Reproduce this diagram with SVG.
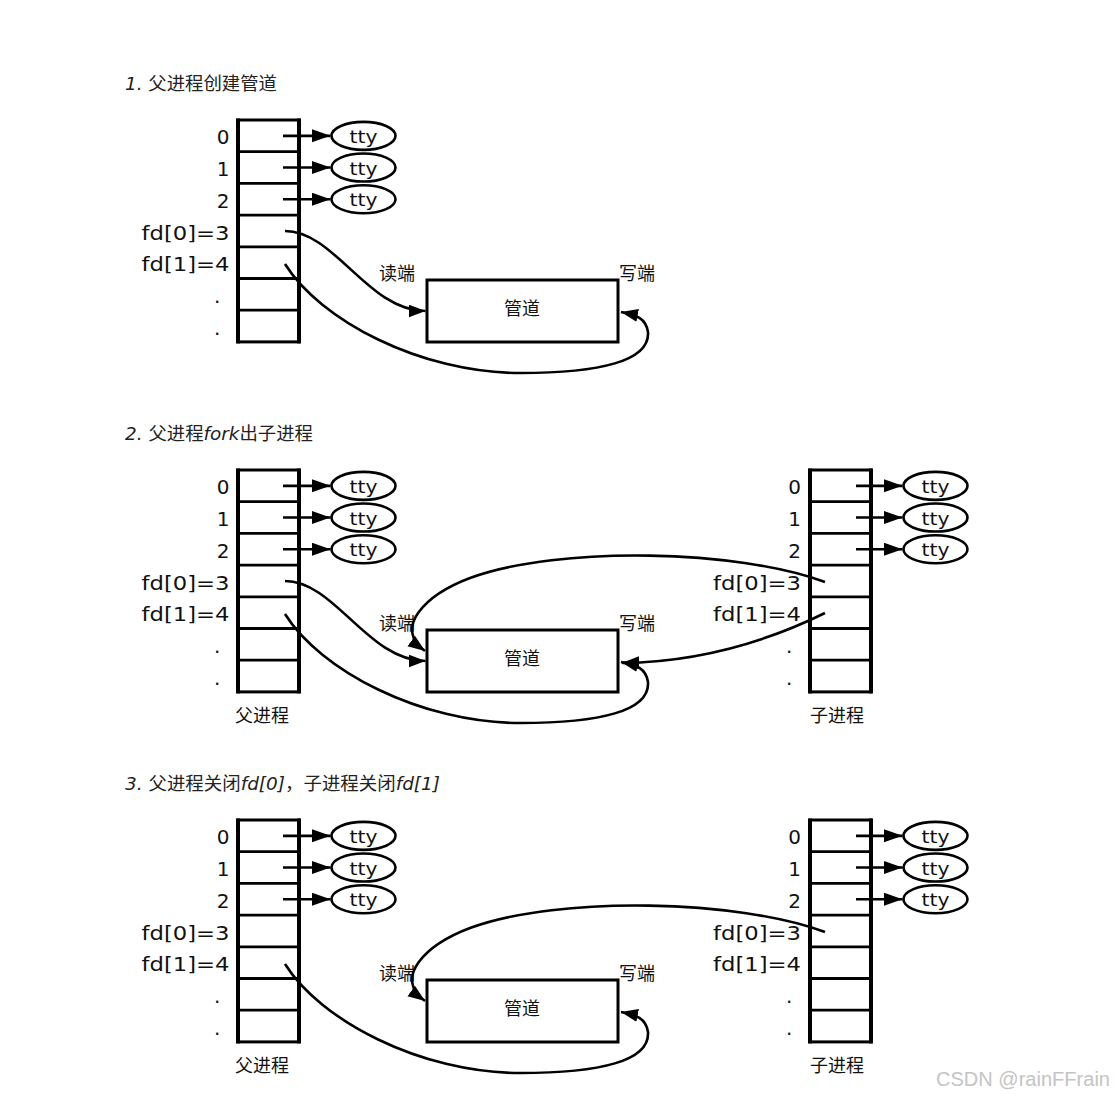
<svg xmlns="http://www.w3.org/2000/svg" width="1115" height="1099" viewBox="0 0 1115 1099">
<defs>
<style>
.bg{fill:#fff}
.tbl{fill:none;stroke:#000;stroke-width:3}
.vl{stroke:#000;stroke-width:4}
.hl{stroke:#000;stroke-width:2.8}
.ell{fill:#fff;stroke:#000;stroke-width:2.6}
.pipe{fill:#fff;stroke:#000;stroke-width:3}
.lbl{font-family:"DejaVu Sans","Noto Sans CJK SC",sans-serif;font-size:20px;fill:#111}
.tty{font-family:"DejaVu Sans",sans-serif;font-size:18px;fill:#111;text-anchor:middle}
.cjk{font-family:"Noto Sans CJK SC","DejaVu Sans",sans-serif;font-size:18px;fill:#111}
.ttl{font-family:"DejaVu Sans","Noto Sans CJK SC",sans-serif;font-size:18px;fill:#222}
.it{font-style:italic}
.sm{fill:none;stroke:#000;stroke-width:2.6;marker-end:url(#ah)}
.cv{fill:none;stroke:#000;stroke-width:2.6;marker-end:url(#ah2)}
.wm{font-family:"Liberation Sans",Arial,sans-serif;font-size:20px;fill:#c4c4c4}
</style>
<marker id="ah" markerUnits="userSpaceOnUse" markerWidth="20" markerHeight="14" refX="19" refY="6.7" orient="auto" viewBox="0 0 20 14">
<path d="M0,0 L19,6.7 L0,13.4 z" fill="#000"/>
</marker>
<marker id="ah2" markerUnits="userSpaceOnUse" markerWidth="18" markerHeight="14" refX="17" refY="6.5" orient="auto" viewBox="0 0 18 14">
<path d="M0,0 L17,6.5 L0,13 z" fill="#000"/>
</marker>
<g id="tblShape">
<rect class="tbl" x="238" y="0" width="61" height="221.9"/>
<line class="hl" x1="238" y1="31.7" x2="299" y2="31.7"/>
<line class="hl" x1="238" y1="63.4" x2="299" y2="63.4"/>
<line class="hl" x1="238" y1="95.1" x2="299" y2="95.1"/>
<line class="hl" x1="238" y1="126.8" x2="299" y2="126.8"/>
<line class="hl" x1="238" y1="158.5" x2="299" y2="158.5"/>
<line class="hl" x1="238" y1="190.2" x2="299" y2="190.2"/>
<line class="vl" x1="238" y1="-1.5" x2="238" y2="223.4"/>
<line class="vl" x1="299" y1="-1.5" x2="299" y2="223.4"/>
</g>
</defs>
<rect class="bg" x="0" y="0" width="1115" height="1099"/>

<!-- Section titles -->
<g id="title1"><text class="ttl" x="125" y="90" textLength="152" lengthAdjust="spacingAndGlyphs"><tspan class="it">1. </tspan>父进程创建管道</text></g>
<g id="title2"><text class="ttl" x="125" y="440" textLength="188" lengthAdjust="spacingAndGlyphs"><tspan class="it">2. </tspan>父进程<tspan class="it">fork</tspan>出子进程</text></g>
<g id="title3"><text class="ttl" x="125" y="790" textLength="315" lengthAdjust="spacingAndGlyphs"><tspan class="it">3. </tspan>父进程关闭<tspan class="it">fd[0]</tspan>，子进程关闭<tspan class="it">fd[1]</tspan></text></g>

<!-- ===== Section 1 ===== -->
<g id="s1-parent-table">
<use href="#tblShape" y="120"/>
<text class="lbl" text-anchor="end" x="229.5" y="144.4">0</text>
<text class="lbl" text-anchor="end" x="229.5" y="176">1</text>
<text class="lbl" text-anchor="end" x="229.5" y="207.8">2</text>
<text class="lbl" text-anchor="end" x="229.5" y="239.5" textLength="88" lengthAdjust="spacingAndGlyphs">fd[0]=3</text>
<text class="lbl" text-anchor="end" x="229.5" y="271.2" textLength="88" lengthAdjust="spacingAndGlyphs">fd[1]=4</text>
<text class="lbl" x="214" y="303">.</text>
<text class="lbl" x="214" y="334.5">.</text>
</g>
<g id="s1-tty0"><ellipse class="ell" cx="363.5" cy="135.85" rx="32" ry="14"/><text class="tty" x="363.5" y="142.8" textLength="28" lengthAdjust="spacingAndGlyphs">tty</text></g>
<g id="s1-tty1"><ellipse class="ell" cx="363.5" cy="167.55" rx="32" ry="14"/><text class="tty" x="363.5" y="174.5" textLength="28" lengthAdjust="spacingAndGlyphs">tty</text></g>
<g id="s1-tty2"><ellipse class="ell" cx="363.5" cy="199.25" rx="32" ry="14"/><text class="tty" x="363.5" y="206.2" textLength="28" lengthAdjust="spacingAndGlyphs">tty</text></g>
<g id="s1-pipe">
<rect class="pipe" x="427" y="280" width="191" height="62"/>
<text class="cjk" x="522" y="315" text-anchor="middle">管道</text>
<text class="cjk" x="379" y="280">读端</text>
<text class="cjk" x="619" y="280">写端</text>
</g>

<!-- ===== Section 2 ===== -->
<g id="s2-parent-table">
<use href="#tblShape" y="470"/>
<text class="lbl" text-anchor="end" x="229.5" y="494.4">0</text>
<text class="lbl" text-anchor="end" x="229.5" y="526">1</text>
<text class="lbl" text-anchor="end" x="229.5" y="557.8">2</text>
<text class="lbl" text-anchor="end" x="229.5" y="589.5" textLength="88" lengthAdjust="spacingAndGlyphs">fd[0]=3</text>
<text class="lbl" text-anchor="end" x="229.5" y="621.2" textLength="88" lengthAdjust="spacingAndGlyphs">fd[1]=4</text>
<text class="lbl" x="214" y="653">.</text>
<text class="lbl" x="214" y="684.5">.</text>
<text class="cjk" x="262" y="722" text-anchor="middle">父进程</text>
</g>
<g id="s2-ptty0"><ellipse class="ell" cx="363.5" cy="485.85" rx="32" ry="14"/><text class="tty" x="363.5" y="492.8" textLength="28" lengthAdjust="spacingAndGlyphs">tty</text></g>
<g id="s2-ptty1"><ellipse class="ell" cx="363.5" cy="517.55" rx="32" ry="14"/><text class="tty" x="363.5" y="524.5" textLength="28" lengthAdjust="spacingAndGlyphs">tty</text></g>
<g id="s2-ptty2"><ellipse class="ell" cx="363.5" cy="549.25" rx="32" ry="14"/><text class="tty" x="363.5" y="556.2" textLength="28" lengthAdjust="spacingAndGlyphs">tty</text></g>
<g id="s2-child-table">
<use href="#tblShape" x="572" y="470"/>
<text class="lbl" text-anchor="end" x="801" y="494.4">0</text>
<text class="lbl" text-anchor="end" x="801" y="526">1</text>
<text class="lbl" text-anchor="end" x="801" y="557.8">2</text>
<text class="lbl" text-anchor="end" x="801" y="589.5" textLength="88" lengthAdjust="spacingAndGlyphs">fd[0]=3</text>
<text class="lbl" text-anchor="end" x="801" y="621.2" textLength="88" lengthAdjust="spacingAndGlyphs">fd[1]=4</text>
<text class="lbl" x="786" y="653">.</text>
<text class="lbl" x="786" y="684.5">.</text>
<text class="cjk" x="837" y="722" text-anchor="middle">子进程</text>
</g>
<g id="s2-ctty0"><ellipse class="ell" cx="935.5" cy="485.85" rx="32" ry="14"/><text class="tty" x="935.5" y="492.8" textLength="28" lengthAdjust="spacingAndGlyphs">tty</text></g>
<g id="s2-ctty1"><ellipse class="ell" cx="935.5" cy="517.55" rx="32" ry="14"/><text class="tty" x="935.5" y="524.5" textLength="28" lengthAdjust="spacingAndGlyphs">tty</text></g>
<g id="s2-ctty2"><ellipse class="ell" cx="935.5" cy="549.25" rx="32" ry="14"/><text class="tty" x="935.5" y="556.2" textLength="28" lengthAdjust="spacingAndGlyphs">tty</text></g>
<g id="s2-pipe">
<rect class="pipe" x="427" y="630" width="191" height="62"/>
<text class="cjk" x="522" y="665" text-anchor="middle">管道</text>
<text class="cjk" x="379" y="630">读端</text>
<text class="cjk" x="619" y="630">写端</text>
</g>

<!-- ===== Section 3 ===== -->
<g id="s3-parent-table">
<use href="#tblShape" y="820"/>
<text class="lbl" text-anchor="end" x="229.5" y="844.4">0</text>
<text class="lbl" text-anchor="end" x="229.5" y="876">1</text>
<text class="lbl" text-anchor="end" x="229.5" y="907.8">2</text>
<text class="lbl" text-anchor="end" x="229.5" y="939.5" textLength="88" lengthAdjust="spacingAndGlyphs">fd[0]=3</text>
<text class="lbl" text-anchor="end" x="229.5" y="971.2" textLength="88" lengthAdjust="spacingAndGlyphs">fd[1]=4</text>
<text class="lbl" x="214" y="1003">.</text>
<text class="lbl" x="214" y="1034.5">.</text>
<text class="cjk" x="262" y="1072" text-anchor="middle">父进程</text>
</g>
<g id="s3-ptty0"><ellipse class="ell" cx="363.5" cy="835.85" rx="32" ry="14"/><text class="tty" x="363.5" y="842.8" textLength="28" lengthAdjust="spacingAndGlyphs">tty</text></g>
<g id="s3-ptty1"><ellipse class="ell" cx="363.5" cy="867.55" rx="32" ry="14"/><text class="tty" x="363.5" y="874.5" textLength="28" lengthAdjust="spacingAndGlyphs">tty</text></g>
<g id="s3-ptty2"><ellipse class="ell" cx="363.5" cy="899.25" rx="32" ry="14"/><text class="tty" x="363.5" y="906.2" textLength="28" lengthAdjust="spacingAndGlyphs">tty</text></g>
<g id="s3-child-table">
<use href="#tblShape" x="572" y="820"/>
<text class="lbl" text-anchor="end" x="801" y="844.4">0</text>
<text class="lbl" text-anchor="end" x="801" y="876">1</text>
<text class="lbl" text-anchor="end" x="801" y="907.8">2</text>
<text class="lbl" text-anchor="end" x="801" y="939.5" textLength="88" lengthAdjust="spacingAndGlyphs">fd[0]=3</text>
<text class="lbl" text-anchor="end" x="801" y="971.2" textLength="88" lengthAdjust="spacingAndGlyphs">fd[1]=4</text>
<text class="lbl" x="786" y="1003">.</text>
<text class="lbl" x="786" y="1034.5">.</text>
<text class="cjk" x="837" y="1072" text-anchor="middle">子进程</text>
</g>
<g id="s3-ctty0"><ellipse class="ell" cx="935.5" cy="835.85" rx="32" ry="14"/><text class="tty" x="935.5" y="842.8" textLength="28" lengthAdjust="spacingAndGlyphs">tty</text></g>
<g id="s3-ctty1"><ellipse class="ell" cx="935.5" cy="867.55" rx="32" ry="14"/><text class="tty" x="935.5" y="874.5" textLength="28" lengthAdjust="spacingAndGlyphs">tty</text></g>
<g id="s3-ctty2"><ellipse class="ell" cx="935.5" cy="899.25" rx="32" ry="14"/><text class="tty" x="935.5" y="906.2" textLength="28" lengthAdjust="spacingAndGlyphs">tty</text></g>
<g id="s3-pipe">
<rect class="pipe" x="427" y="980" width="191" height="62"/>
<text class="cjk" x="522" y="1015" text-anchor="middle">管道</text>
<text class="cjk" x="379" y="980">读端</text>
<text class="cjk" x="619" y="980">写端</text>
</g>

<!-- ===== Connectors ===== -->
<g id="connectors">
<!-- tty arrows -->
<path class="sm" d="M283,135.85 H330.5"/>
<path class="sm" d="M283,167.55 H330.5"/>
<path class="sm" d="M283,199.25 H330.5"/>
<path class="sm" d="M283,485.85 H330.5"/>
<path class="sm" d="M283,517.55 H330.5"/>
<path class="sm" d="M283,549.25 H330.5"/>
<path class="sm" d="M856,485.85 H902.5"/>
<path class="sm" d="M856,517.55 H902.5"/>
<path class="sm" d="M856,549.25 H902.5"/>
<path class="sm" d="M283,835.85 H330.5"/>
<path class="sm" d="M283,867.55 H330.5"/>
<path class="sm" d="M283,899.25 H330.5"/>
<path class="sm" d="M856,835.85 H902.5"/>
<path class="sm" d="M856,867.55 H902.5"/>
<path class="sm" d="M856,899.25 H902.5"/>
<!-- section 1 -->
<path class="cv" d="M285,231 C335,231 368,311 425.5,311"/>
<path class="cv" d="M285,264 C320,320 420,373 520,373 C600,373 650,361 648,332 C646,318 636,315 621,312"/>
<!-- section 2 -->
<path class="cv" d="M285,581 C335,581 368,661 425.5,661"/>
<path class="cv" d="M285,614 C320,670 420,723 520,723 C600,723 650,711 648,682 C646,668 636,665 621,662"/>
<path class="cv" d="M825,582 C740,550 560,545 470,578 C425,595 393,628 425,651"/>
<path class="cv" d="M825,613 C770,640 700,662 622,663"/>
<!-- section 3 -->
<path class="cv" d="M285,964 C320,1020 420,1073 520,1073 C600,1073 650,1061 648,1032 C646,1018 636,1015 621,1012"/>
<path class="cv" d="M825,932 C740,900 560,895 470,928 C425,945 393,978 425,1001"/>
</g>

<text class="wm" x="936" y="1086" textLength="174" lengthAdjust="spacingAndGlyphs">CSDN @rainFFrain</text>
</svg>
